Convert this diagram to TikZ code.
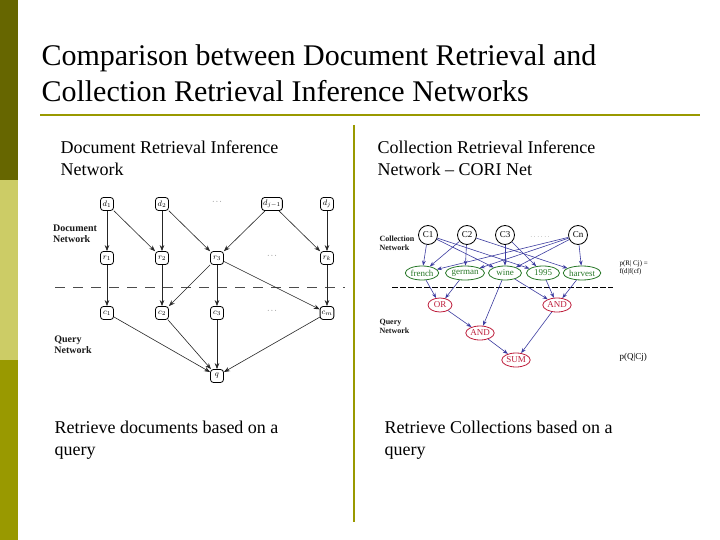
\documentclass[tikz,border=0pt]{standalone}
\usepackage{fontspec}
\setmainfont{Liberation Serif}
\usetikzlibrary{arrows.meta,shapes.geometric}
\definecolor{olive}{RGB}{153,153,0}
\definecolor{oliveD}{RGB}{102,102,0}
\definecolor{oliveL}{RGB}{204,204,102}
\definecolor{netblue}{RGB}{60,60,160}
\definecolor{termgreen}{RGB}{40,120,40}
\definecolor{opred}{RGB}{190,30,60}
\tikzset{
  doc/.style={draw,rounded corners=3pt,thick,fill=white,inner sep=1.5pt,minimum size=13pt,font=\fontsize{8}{8}\selectfont},
  dlink/.style={-{Stealth[length=6pt]},semithick,gray!30!black},
  coll/.style={circle,draw,thick,fill=white,inner sep=0pt,minimum size=19pt,font=\fontsize{9}{9}\selectfont},
  term/.style={ellipse,draw=termgreen,thick,fill=white,text=termgreen,inner sep=0.3pt,minimum width=33pt,minimum height=14pt,font=\fontsize{9}{9}\selectfont},
  op/.style={ellipse,draw=opred,thick,fill=white,text=opred,inner sep=0.3pt,minimum width=24pt,minimum height=14pt,font=\fontsize{9}{9}\selectfont},
  clink/.style={-{Stealth[length=5pt]},semithick,netblue},
  lab/.style={align=left,font=\fontsize{10}{11}\selectfont\bfseries,text=gray!20!black},
  txt/.style={anchor=west,align=left,font=\fontsize{18}{22}\selectfont}
}
\begin{document}
\begin{tikzpicture}[x=1pt,y=-1pt]
\useasboundingbox (0,0) rectangle (720,540);
\fill[white] (0,0) rectangle (720,540);
\fill[oliveD] (0,0) rectangle (18,180);
\fill[oliveL] (0,180) rectangle (18,360);
\fill[olive] (0,360) rectangle (18,540);
\node[anchor=west,align=left,font=\fontsize{30}{36}\selectfont] (title) at (38,73) {Comparison between Document Retrieval and\\Collection Retrieval Inference Networks};
\draw[olive,line width=1.5pt] (40,115) -- (700,115);
\draw[olive,line width=2.5pt] (354,125) -- (354,522);
\node[txt] (s1) at (57,158) {Document Retrieval Inference\\Network};
\node[txt] (s2) at (374,158) {Collection Retrieval Inference\\Network – CORI Net};
\node[txt] (b1) at (51,440) {Retrieve documents based on a\\query};
\node[txt] (b2) at (381,440) {Retrieve Collections based on a\\query};
% document network
\node[doc] (d1) at (107,204) {$d_1$};
\node[doc] (d2) at (162,204) {$d_2$};
\node (dd) at (217,202) {\scriptsize$\cdots$};
\node[doc] (dj1) at (272,204) {$d_{j-1}$};
\node[doc] (dj) at (327,204) {$d_j$};
\node[doc] (r1) at (107,258) {$r_1$};
\node[doc] (r2) at (162,258) {$r_2$};
\node[doc] (r3) at (217,258) {$r_3$};
\node (rd) at (272,256) {\scriptsize$\cdots$};
\node[doc] (rk) at (327,258) {$r_k$};
\node[doc] (c1) at (107,313) {$c_1$};
\node[doc] (c2) at (162,313) {$c_2$};
\node[doc] (c3) at (217,313) {$c_3$};
\node (cd) at (272,311) {\scriptsize$\cdots$};
\node[doc] (cm) at (327,313) {$c_m$};
\node[doc] (q) at (217,376) {$q$};
\node[lab] (ldn) at (75,234) {Document\\Network};
\node[lab] (lqn) at (73,345) {Query\\Network};
\draw[dash pattern=on 10pt off 8pt,thick,gray!60!black] (55,287) -- (345,287);
\foreach \a/\b in {d1/r1,d1/r2,d2/r2,d2/r3,dj1/r3,dj1/rk,dj/rk,r1/c1,r2/c2,r3/c2,r3/c3,r3/cm,rk/cm,c1/q,c2/q,c3/q,cm/q}
  \draw[dlink] (\a) -- (\b);
% collection network
\node[coll] (C1) at (428,235) {C1};
\node[coll] (C2) at (467,235) {C2};
\node[coll] (C3) at (505,235) {C3};
\node (Cd) at (540,237) {\tiny$\cdots\cdots$};
\node[coll] (Cn) at (578,235) {Cn};
\node[term] (fr) at (422,273) {french};
\node[term] (ge) at (465,273) {german};
\node[term] (wi) at (505,273) {wine};
\node[term] (yr) at (543,273) {1995};
\node[term] (ha) at (582,273) {harvest};
\node[op] (or) at (440,305) {OR};
\node[op] (andr) at (557,305) {AND};
\node[op] (andm) at (480,333) {AND};
\node[op,minimum width=26pt] (sum) at (516,360) {SUM};
\node[lab,anchor=west,font=\fontsize{8}{9}\selectfont\bfseries] (lcn) at (376,243) {Collection\\Network};
\node[lab,anchor=west,font=\fontsize{8}{9}\selectfont\bfseries] (lqn2) at (376,326) {Query\\Network};
\node[anchor=west,align=left,font=\fontsize{7}{8}\selectfont] (pr) at (616,268) {p(R| Cj) =\\f(d|f(cf)};
\node[anchor=west,font=\fontsize{9}{9}\selectfont] (pq) at (616,357) {p(Q|Cj)};
\draw[dash pattern=on 6pt off 2pt,thick] (392,287) -- (613,287);
\foreach \a/\b in {C1/fr,C1/wi,C1/yr,C2/fr,C2/ge,C2/ha,C3/wi,C3/yr,Cn/fr,Cn/ge,Cn/wi,Cn/ha,fr/or,ge/or,wi/andm,wi/andr,yr/andr,ha/andr,or/andm,andm/sum,andr/sum}
  \draw[clink] (\a) -- (\b);
\end{tikzpicture}
\end{document}
